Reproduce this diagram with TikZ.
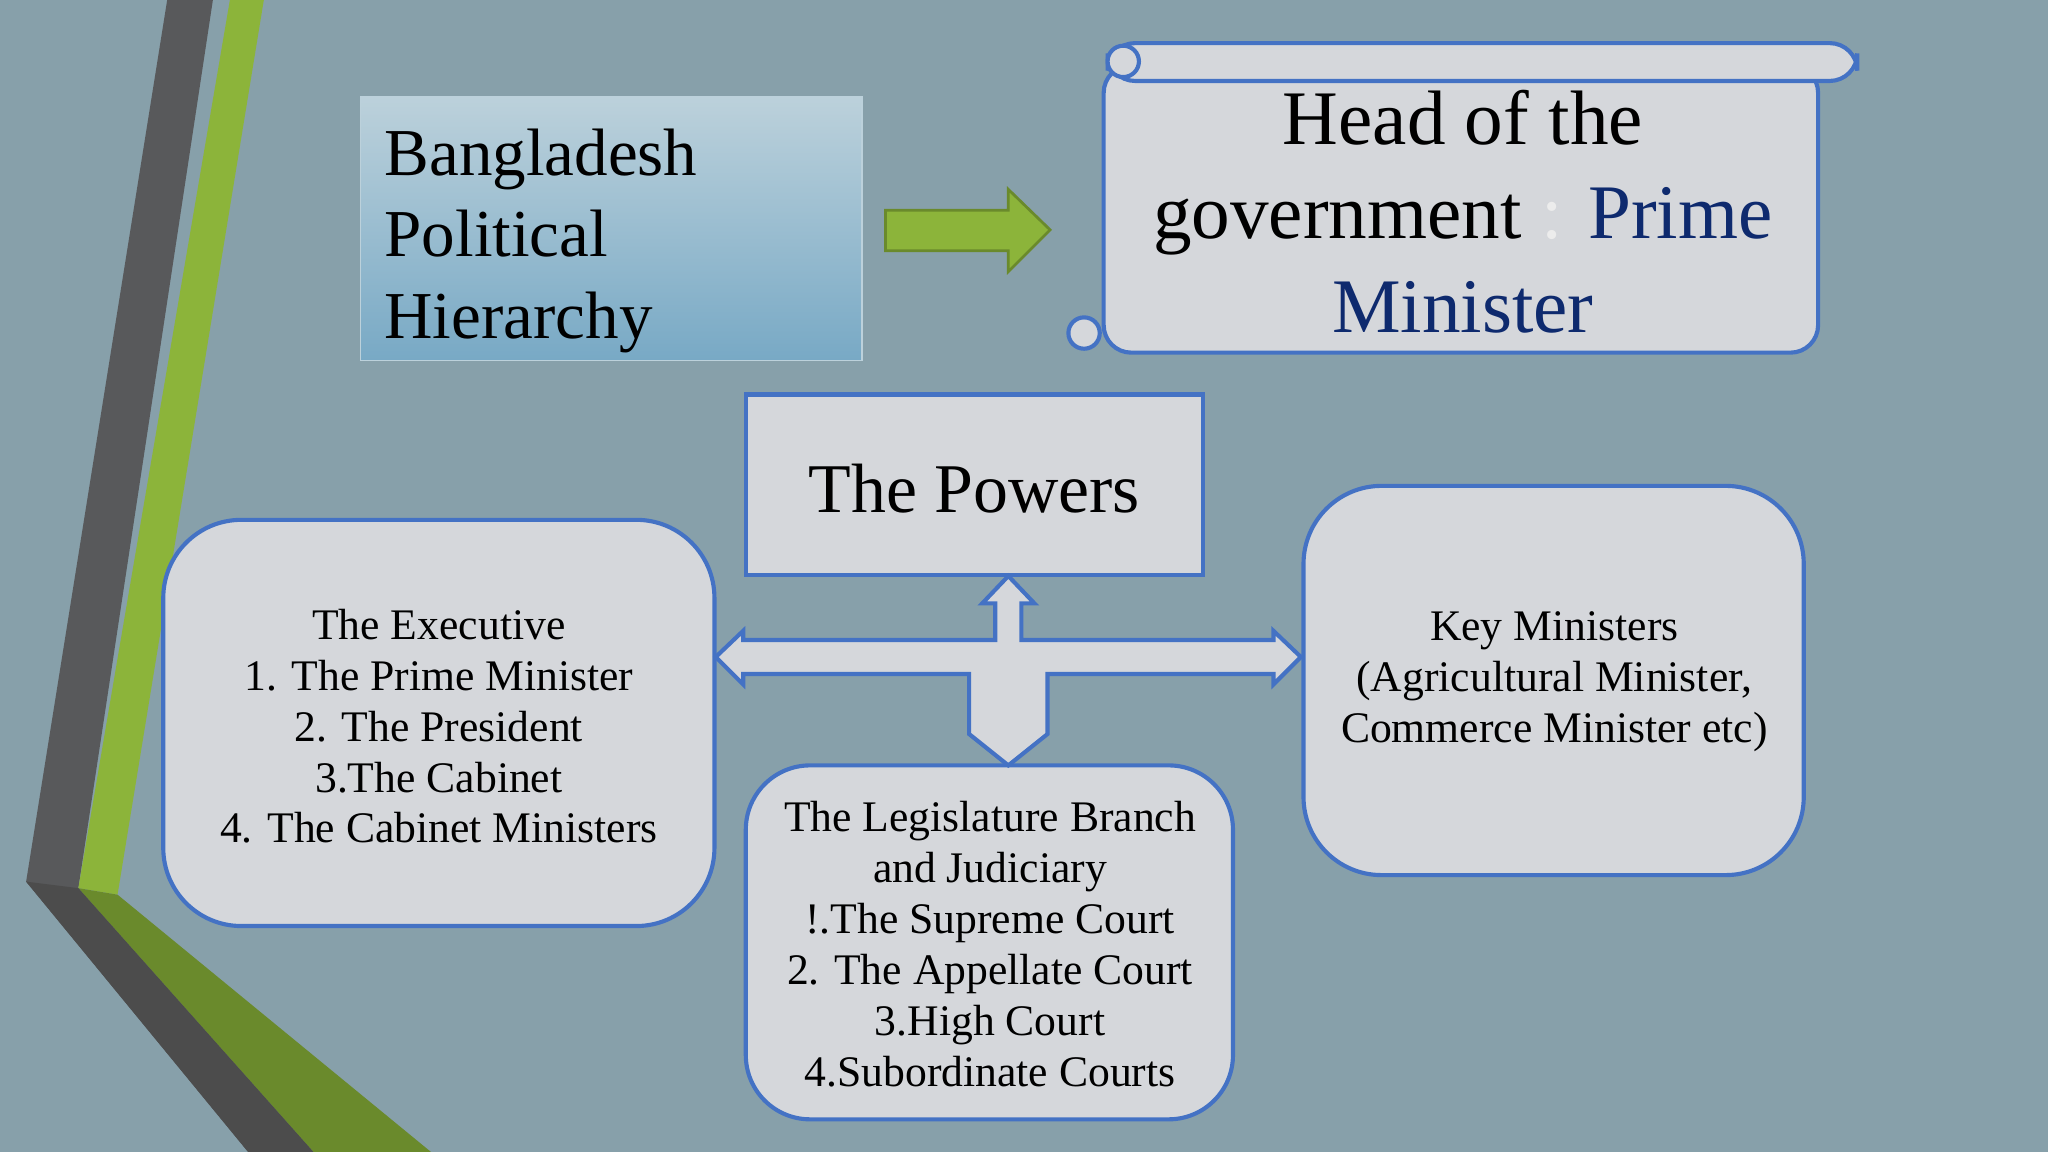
\documentclass[tikz,border=0pt]{standalone}
\usepackage{fontspec}
\setmainfont{Liberation Serif}
\begin{document}
\begin{tikzpicture}[x=0.01cm,y=-0.01cm,
  box/.style={draw=blueE,line width=0.9pt,fill=boxF},
  txt/.style={align=center,font=\fontsize{9.5}{11.1}\selectfont}]
\definecolor{bg}{HTML}{87A0AA}
\definecolor{boxF}{HTML}{D5D7DB}
\definecolor{blueE}{HTML}{4472C4}
\definecolor{navy}{HTML}{0E2A6E}
\definecolor{grn}{HTML}{8CB43A}
\definecolor{dgrn}{HTML}{6A8A2C}
\definecolor{dgray}{HTML}{58595B}
\definecolor{gtop}{HTML}{BCD1DB}
\definecolor{gbot}{HTML}{78A9C5}
\useasboundingbox (0,0) rectangle (1568,882);
\fill[bg] (0,0) rectangle (1568,882);
% left decoration
\fill[dgray] (128,0) -- (163,0) -- (60,680) -- (240,882) -- (190,882) -- (20,675) -- cycle;
\fill[grn] (176,0) -- (202,0) -- (90,685) -- (60,680) -- cycle;
\fill[dgrn] (60,680) -- (90,685) -- (330,882) -- (240,882) -- cycle;
\fill[black!70] (20,675) -- (60,680) -- (240,882) -- (190,882) -- cycle;
% title
\shade[top color=gtop, bottom color=gbot] (276,74) rectangle (660,276);
\draw[gtop] (276,74) rectangle (660,276);
\node[anchor=north west,align=left,font=\fontsize{14.6}{17.8}\selectfont] (title) at (282,86) {Bangladesh\\Political\\Hierarchy};
% green arrow
\draw[fill=grn,draw=dgrn,line width=0.6pt] (678,161) -- (772,161) -- (772,145) -- (804,176) -- (772,208) -- (772,192) -- (678,192) -- cycle;
% scroll
\draw[box,rounded corners=6pt] (845,50) rectangle (1392,270);
\draw[box,rounded corners=6pt] (848,33) rectangle (1422,62);
\draw[box] (860,47) circle (12);
\draw[box] (830,255) circle (12);
\node[align=center,font=\fontsize{16.8}{20.5}\selectfont] (head) at (1120,162) {Head of the\\government {\color{white!85!gray}:} {\color{navy}Prime}\\{\color{navy}Minister}};
% powers
\draw[box] (571,302) rectangle (921,440);
\node[font=\fontsize{15.2}{18}\selectfont] (pow) at (746,374) {The Powers};
% exec
\draw[box,rounded corners=17pt] (125,398) rectangle (547,709);
\node[txt] (exe) at (336,556) {The Executive\\1. The Prime Minister\\2. The President\\3.The Cabinet\\4. The Cabinet Ministers};
\draw[box,rounded corners=14pt] (571,586) rectangle (944,857);
\node[txt] (leg) at (758,723) {The Legislature Branch\\and Judiciary\\!.The Supreme Court\\2. The Appellate Court\\3.High Court\\4.Subordinate Courts};
\draw[box,rounded corners=17pt] (998,372) rectangle (1381,670);
\node[txt] (key) at (1190,522) {Key Ministers\\(Agricultural Minister,\\Commerce Minister etc)};
% cross arrows
\draw[box,line join=miter] (548,503) -- (569,483) -- (569,490) -- (762,490) -- (762,462) -- (752,462) -- (772,441) -- (792,462) -- (782,462) -- (782,490) -- (975,490) -- (975,483) -- (996,503) -- (975,524) -- (975,516) -- (802,516) -- (802,562) -- (772,586) -- (742,562) -- (742,516) -- (569,516) -- (569,524) -- cycle;
\end{tikzpicture}
\end{document}
